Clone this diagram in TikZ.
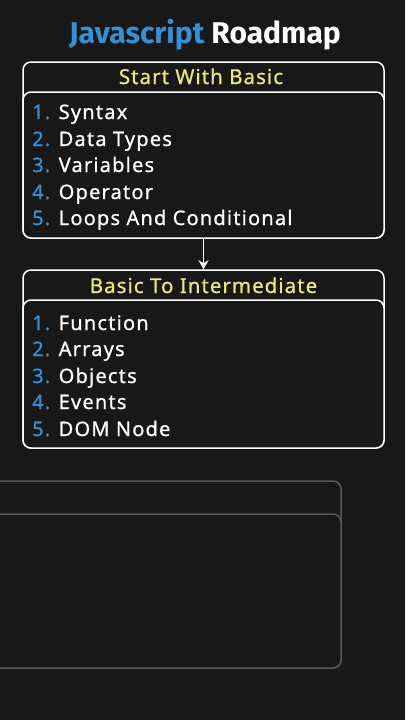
\documentclass[tikz,border=0pt]{standalone}
\usepackage{fontspec}
\setmainfont{Noto Sans}
\newfontfamily\titlefont{Fira Sans}
\usepackage{tikz}
\usetikzlibrary{positioning}
\usetikzlibrary{arrows.meta}
\definecolor{bgdark}{RGB}{24,24,24}
\definecolor{jsblue}{RGB}{58,142,210}
\definecolor{headyellow}{RGB}{232,232,128}
\definecolor{fadegray}{RGB}{88,88,88}
\tikzstyle{frame}=[draw=white,line width=1.5pt,rounded corners=8pt,fill=bgdark,minimum width=361pt]
\tikzstyle{fadeframe}=[frame,draw=fadegray]
\tikzstyle{heading}=[text=headyellow,anchor=base,font=\fontsize{20.5}{22}\selectfont\addfontfeature{LetterSpace=5,FakeBold=0.8},inner sep=0pt]
\tikzstyle{item}=[text=white,anchor=base west,font=\fontsize{20}{22}\selectfont\addfontfeature{LetterSpace=6,FakeBold=0.8},inner sep=0pt]
\tikzstyle{flow} = [draw=white,line width=1.6pt,-{Stealth[length=9pt,width=10pt]}]

\begin{document}
\begin{tikzpicture}[x=1pt,y=-1pt]
    \useasboundingbox[fill=bgdark] (0,0) rectangle (405,720);

    \node[inner sep=0pt,anchor=base,font=\titlefont\bfseries\fontsize{30}{32}\selectfont] (title) at (205,43)
        {\textcolor{jsblue}{Javascript} \textcolor{white}{Roadmap}};

    % first block
    \node[frame,minimum height=176pt] (basicout) at (203.5,150) {};
    \node[frame,minimum height=146pt] (basicin) at (203.5,165) {};
    \node[heading] (basichead) at (201,84) {Start With Basic};
    \foreach \y/\name/\num/\txt in {119/sa/1/Syntax, 146/sb/2/Data Types, 172/sc/3/Variables, 199/sd/4/Operator, 225/se/5/Loops And Conditional}
            \node[item] (\name) at (32,\y) {\textcolor{jsblue}{\num.} \txt};

    % second block
    \node[frame,minimum height=178pt] (midout) at (203.5,359) {};
    \node[frame,minimum height=148pt] (midin) at (203.5,374) {};
    \node[heading] (midhead) at (203.5,293) {Basic To Intermediate};
    \foreach \y/\name/\num/\txt in {330/ma/1/Function, 356/mb/2/Arrays, 383/mc/3/Objects, 409/md/4/Events, 436/me/5/DOM Node}
            \node[item] (\name) at (32,\y) {\textcolor{jsblue}{\num.} \txt};

    \path[flow] (basicin.south) -- (midout.north);

    % third block, faded
    \node[fadeframe,minimum height=187pt] (nextout) at (160.5,574.5) {};
    \node[fadeframe,minimum height=154pt] (nextin) at (160.5,591) {};

\end{tikzpicture}
\end{document}
